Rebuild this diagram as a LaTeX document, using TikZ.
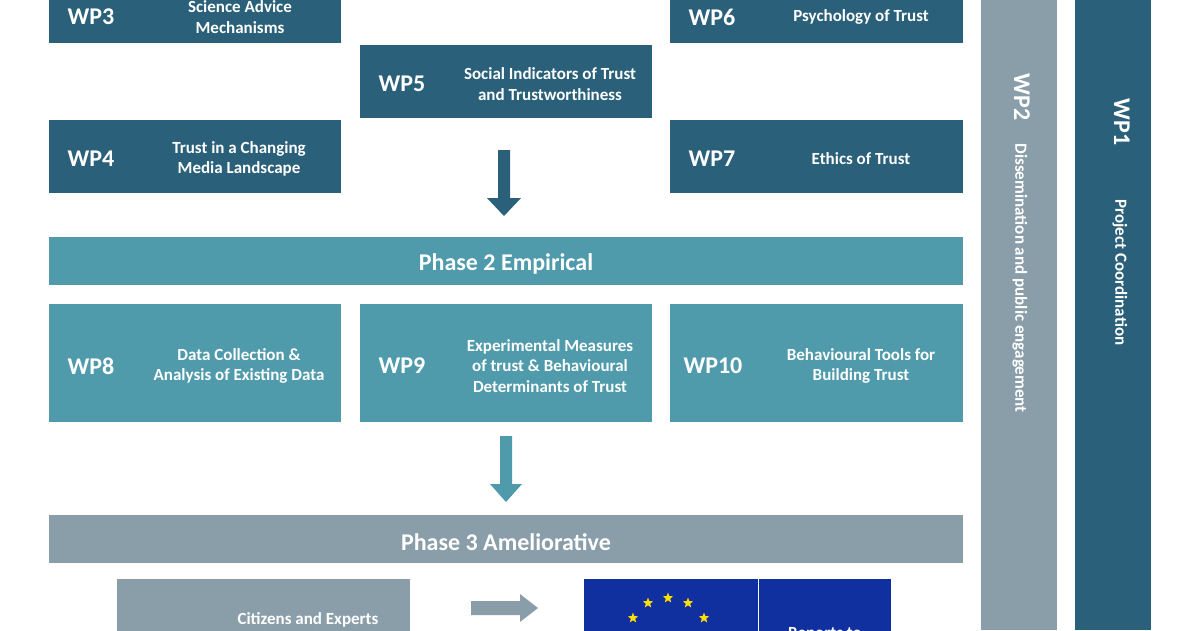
\documentclass[tikz,border=0pt]{standalone}
\usepackage{fontspec}
\setmainfont{Carlito}
\usetikzlibrary{shapes.geometric}
\definecolor{dk}{HTML}{2A6079}
\definecolor{tl}{HTML}{4F9AAB}
\definecolor{gy}{HTML}{8A9EA9}
\definecolor{eu}{HTML}{1030A0}
\definecolor{st}{HTML}{FFE000}
\begin{document}
\begin{tikzpicture}[x=1pt,y=-1pt,
 wp/.style={text=white,font=\bfseries\fontsize{24}{26}\selectfont,anchor=west},
 ds/.style={text=white,font=\bfseries\fontsize{17}{20.5}\selectfont,align=center},
 ph/.style={text=white,font=\bfseries\fontsize{24}{26}\selectfont},
 eustar/.style={star,star points=5,star point ratio=2.4,fill=st,draw=none,inner sep=0pt,minimum size=11pt}]
\useasboundingbox (0,0) rectangle (1200,630);
\fill[white] (0,0) rectangle (1200,630);
% top boxes
\fill[dk] (49,-30) rectangle (341,43);
\node[wp] (wp3) at (64,17) {WP3};
\node[ds] (d3) at (240,17) {Science Advice\\Mechanisms};
\fill[dk] (670,-30) rectangle (963,43);
\node[wp] (wp6) at (685,17) {WP6};
\node[ds] (d6) at (861,17) {Psychology of Trust};
\fill[dk] (360,45) rectangle (652,118);
\node[wp] (wp5) at (375,84) {WP5};
\node[ds] (d5) at (550,84) {Social Indicators of Trust\\and Trustworthiness};
\fill[dk] (49,120) rectangle (341,193);
\node[wp] (wp4) at (64,159) {WP4};
\node[ds] (d4) at (239,159) {Trust in a Changing\\Media Landscape};
\fill[dk] (670,120) rectangle (963,193);
\node[wp] (wp7) at (685,159) {WP7};
\node[ds] (d7) at (861,159) {Ethics of Trust};
% arrow 1
\fill[dk] (498,150) -- (510,150) -- (510,198) -- (521,198) -- (504,216) -- (487,198) -- (498,198) -- cycle;
% phase 2
\fill[tl] (49,237) rectangle (963,285);
\node[ph] (p2) at (506,264) {Phase 2 Empirical};
\fill[tl] (49,304) rectangle (341,422);
\node[wp] (wp8) at (64,366) {WP8};
\node[ds] (d8) at (239,366) {Data Collection \&\\Analysis of Existing Data};
\fill[tl] (360,304) rectangle (652,422);
\node[wp] (wp9) at (375,366) {WP9};
\node[ds] (d9) at (550,366) {Experimental Measures\\of trust \& Behavioural\\Determinants of Trust};
\fill[tl] (670,304) rectangle (963,422);
\node[wp] (wp10) at (680,366) {WP10};
\node[ds] (d10) at (861,366) {Behavioural Tools for\\Building Trust};
% arrow 2
\fill[tl] (500,436) -- (512,436) -- (512,484) -- (522,484) -- (506,502) -- (490,484) -- (500,484) -- cycle;
% phase 3
\fill[gy] (49,515) rectangle (963,563);
\node[ph] (p3) at (506,542) {Phase 3 Ameliorative};
\fill[gy] (117,579) rectangle (410,640);
\node[ds] (ce) at (308,620) {Citizens and Experts};
\fill[gy] (471,601) -- (520,601) -- (520,594) -- (538,608) -- (520,622) -- (520,615) -- (471,615) -- cycle;
\fill[eu] (584,579) rectangle (891,640);
\draw[white,line width=0.8pt] (758,579) -- (758,640);
\node[eustar] (s1) at (648,603) {};
\node[eustar] (s2) at (668,598) {};
\node[eustar] (s3) at (688,603) {};
\node[eustar] (s4) at (633,618) {};
\node[eustar] (s5) at (704,618) {};
\node[ds] (rep) at (825,634) {Reports to};
% columns
\fill[gy] (981,0) rectangle (1057,630);
\node[wp,rotate=-90,anchor=west] (wp2) at (1022,70) {WP2};
\node[ds,rotate=-90,anchor=west] (d2) at (1020,140) {Dissemination and public engagement};
\fill[dk] (1075,0) rectangle (1151,630);
\node[wp,rotate=-90,anchor=west] (wp1) at (1122,95) {WP1};
\node[ds,rotate=-90,anchor=west] (d1) at (1120,196) {Project Coordination};
\end{tikzpicture}
\end{document}
